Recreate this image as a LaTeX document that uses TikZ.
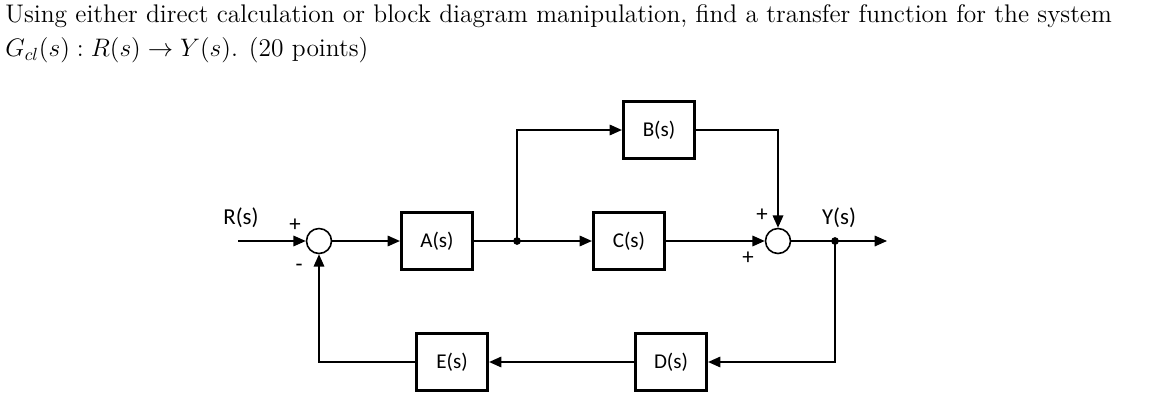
\documentclass[tikz,border=0pt]{standalone}
\usepackage{fontspec}
\newfontfamily\blkfont{Carlito}
\usetikzlibrary{arrows.meta}
\begin{document}
\begin{tikzpicture}[x=0.02cm,y=-0.02cm,
  blk/.style={draw,line width=1.8pt,minimum width=1.42cm,minimum height=1.14cm,font=\blkfont\fontsize{12}{14}\selectfont},
  sum/.style={draw,circle,line width=0.9pt,minimum size=0.5cm,inner sep=0pt},
  ar/.style={-{Triangle[length=7pt,width=6pt]},line width=0.9pt},
  ln/.style={line width=0.9pt},
  lab/.style={font=\blkfont\fontsize{13}{15}\selectfont,inner sep=0pt}]
\useasboundingbox (0,0) rectangle (1176,406);
\node[anchor=north west,align=left,inner sep=0pt,font=\fontsize{14.5}{19.5}\selectfont] (txt) at (5,4)
 {Using either direct calculation or block diagram manipulation, find a transfer function for the system\\
 $G_{cl}(s):R(s)\rightarrow Y(s)$. (20 points)};
\node[blk] (A) at (437,241) {A(s)};
\node[blk] (B) at (659,130) {B(s)};
\node[blk] (C) at (629,241) {C(s)};
\node[blk] (E) at (452,362) {E(s)};
\node[blk] (D) at (671,362) {D(s)};
\node[sum] (s1) at (319,241) {};
\node[sum] (s2) at (778,241) {};
\coordinate (in) at (238,241);
\coordinate (br) at (517,241);
\coordinate (yb) at (835,241);
\coordinate (out) at (887,241);
\fill (br) circle (2.2pt);
\fill (yb) circle (2.2pt);
\node[lab] (R) at (241,218) {R(s)};
\node[lab] (Y) at (839,218) {Y(s)};
\node[lab] (p1) at (295,225) {+};
\node[lab] (m1) at (299,268) {-};
\node[lab] (p2) at (762,215) {+};
\node[lab] (p3) at (748,258) {+};
\draw[ar] (in) -- (s1);
\draw[ar] (s1) -- (A);
\draw[ln] (A) -- (br);
\draw[ar] (br) -- (C);
\draw[ar] (br) |- (B);
\draw[ar] (B) -| (s2);
\draw[ar] (C) -- (s2);
\draw[ar] (s2) -- (out);
\draw[ar] (yb) |- (D);
\draw[ar] (D) -- (E);
\draw[ar] (E) -| (s1);
\end{tikzpicture}
\end{document}
